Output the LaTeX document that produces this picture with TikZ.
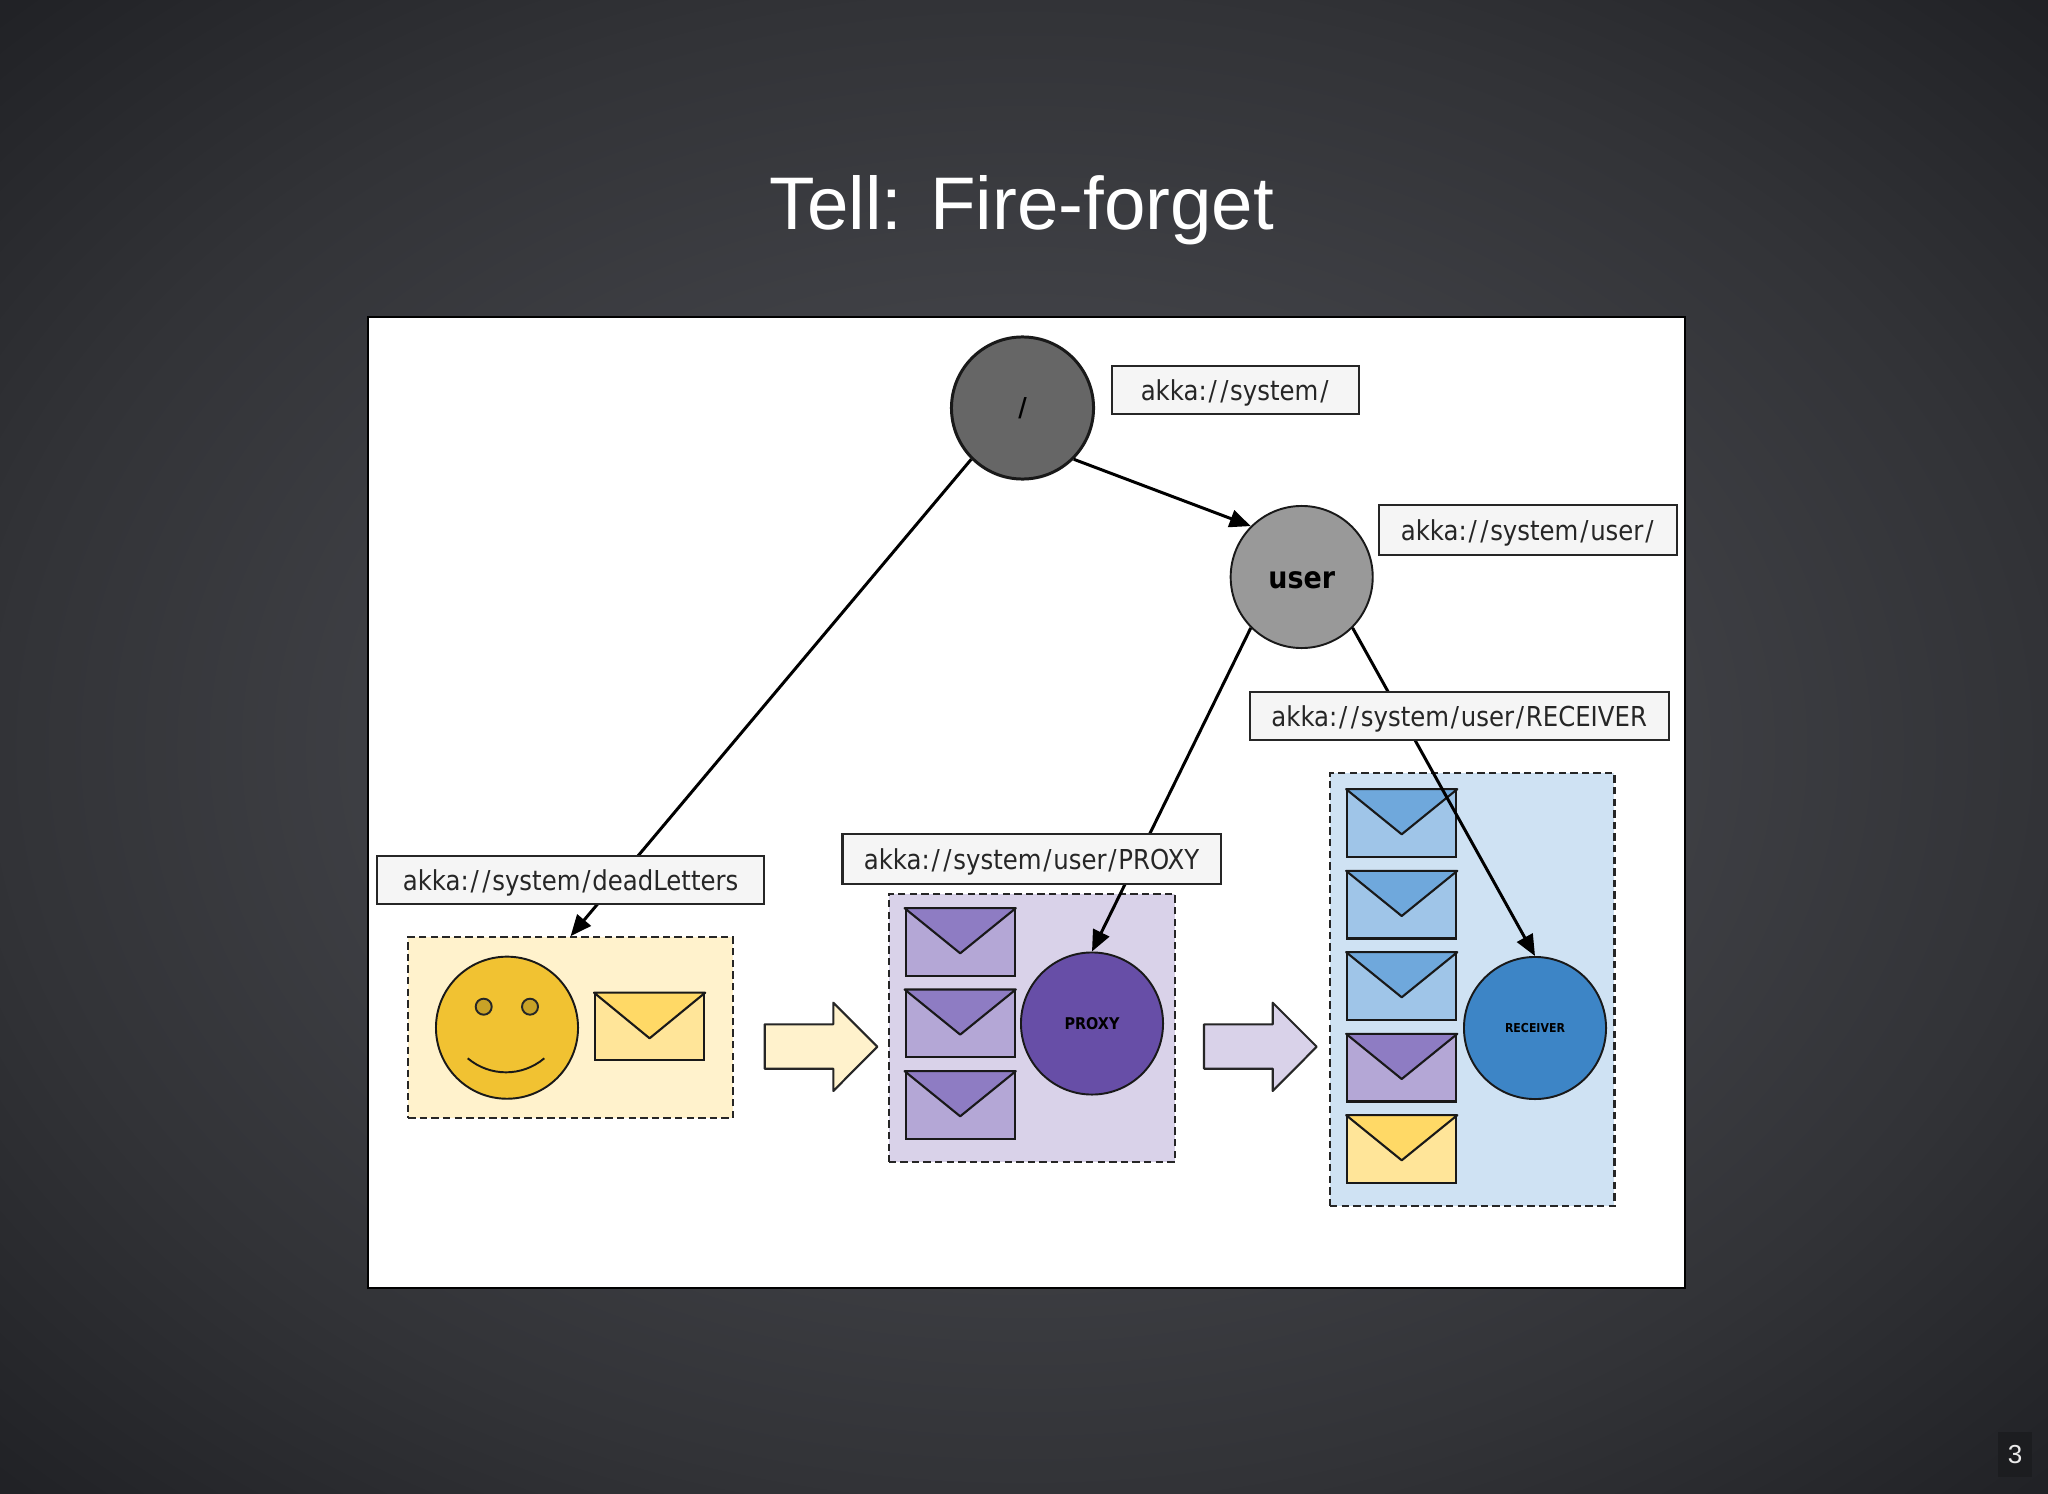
\documentclass[tikz,border=0pt]{standalone}
\usepackage{fontspec}
\setmainfont{Liberation Sans}
\newfontfamily\akkafont[FakeStretch=0.89]{DejaVu Sans}
\newcommand{\gapslash}{\kern0.5pt/\kern0.5pt}
\usetikzlibrary{arrows.meta}
\definecolor{slidein}{HTML}{404146}
\definecolor{slideedge}{HTML}{323337}
\definecolor{slidecorner}{HTML}{212226}
\definecolor{pagedark}{HTML}{1C1D20}
\definecolor{yellowbox}{HTML}{FFF2CC}
\definecolor{yellowdark}{HTML}{F1C232}
\definecolor{yellowmail}{HTML}{FFE599}
\definecolor{yellowflap}{HTML}{FFD966}
\definecolor{eye}{HTML}{C9A227}
\definecolor{purplebox}{HTML}{D9D2E9}
\definecolor{purplemail}{HTML}{B4A7D6}
\definecolor{purpleflap}{HTML}{8E7CC3}
\definecolor{purpledark}{HTML}{674EA7}
\definecolor{bluebox}{HTML}{CFE2F3}
\definecolor{bluemail}{HTML}{9FC5E8}
\definecolor{blueflap}{HTML}{6FA8DC}
\definecolor{bluedark}{HTML}{3D85C6}
\pgfdeclareradialshading{slidebg}{\pgfpoint{0bp}{0bp}}{color(0bp)=(slidein); color(14bp)=(slidein); color(25bp)=(slideedge); color(35bp)=(slidecorner); color(50bp)=(slidecorner)}
\tikzset{
  addr/.style={draw=black!85, line width=0.6pt, fill=black!4, minimum height=0.48cm, inner sep=0pt, text height=0.27cm, text depth=0.06cm, text=black!85, font=\akkafont\fontsize{7.8}{9}\selectfont},
  actor/.style={circle, draw=black!90, line width=0.55pt, minimum size=1.42cm, inner sep=0pt, text=black},
  mailbox/.style={draw=black!85, line width=0.6pt, dash pattern=on 2.1pt off 1.2pt},
  mail/.style={draw=black!90, line width=0.6pt, minimum width=1.09cm, minimum height=0.665cm, inner sep=0pt},
  flap/.style={draw=black!90, line width=0.6pt, line join=round},
  link/.style={draw=black, line width=0.85pt, -{Triangle[length=6pt,width=5pt]}},
}
\begin{document}
\begin{tikzpicture}[x=0.01cm,y=0.01cm]
\useasboundingbox (0,0) rectangle (2048,-1494);
\shade [shading=slidebg] (0,0) rectangle (2048,-1494);
\node [anchor=base, text=white, font=\fontsize{21.2}{24}\selectfont] (title) at (1022,-230) {Tell: Fire-forget};
\node [draw=black, line width=0.6pt, fill=white, minimum width=13.17cm, minimum height=9.71cm, inner sep=0pt] (panel) at (1026.5,-802.5) {};
\node [fill=pagedark, minimum width=0.34cm, minimum height=0.45cm, inner sep=0pt] (pagebox) at (2015,-1454.5) {};
\node [text=white!92!black, font=\fontsize{7.4}{9}\selectfont] (pagenum) at (2015,-1455) {3};
\node [mailbox, fill=yellowbox, minimum width=3.247cm, minimum height=1.807cm, inner sep=0pt] (sendbox) at (570.6,-1027.6) {};
\node [mailbox, fill=purplebox, minimum width=2.86cm, minimum height=2.683cm, inner sep=0pt] (proxybox) at (1031.7,-1027.8) {};
\node [mailbox, fill=bluebox, minimum width=2.843cm, minimum height=4.327cm, inner sep=0pt] (recvbox) at (1472.2,-989.7) {};
\node [actor, fill=yellowdark] (sender) at (507,-1027.7) {};
\node [circle, draw=black!85, line width=0.55pt, fill=eye, minimum size=0.16cm, inner sep=0pt] (eyeleft) at (483.7,-1006.7) {};
\node [circle, draw=black!85, line width=0.55pt, fill=eye, minimum size=0.16cm, inner sep=0pt] (eyeright) at (530,-1006.7) {};
\draw [black!90, line width=0.55pt] (467.7,-1058.3) .. controls (490,-1077) and (522,-1077) .. (544.3,-1058.3);
\node [mail, fill=yellowmail] (smail) at (649.6,-1027) {};
\draw [flap, fill=yellowflap] (smail.north west) -- (649.6,-1038.3) -- (smail.north east) -- cycle;
\node [mail, fill=purplemail] (pmaila) at (960.2,-942.5) {};
\draw [flap, fill=purpleflap] (pmaila.north west) -- (960.2,-953.3) -- (pmaila.north east) -- cycle;
\node [mail, fill=purplemail] (pmailb) at (960.2,-1023.8) {};
\draw [flap, fill=purpleflap] (pmailb.north west) -- (960.2,-1034.6) -- (pmailb.north east) -- cycle;
\node [mail, fill=purplemail] (pmailc) at (960.2,-1105.5) {};
\draw [flap, fill=purpleflap] (pmailc.north west) -- (960.2,-1116.3) -- (pmailc.north east) -- cycle;
\node [mail, fill=bluemail] (rmaila) at (1401.7,-823.5) {};
\draw [flap, fill=blueflap] (rmaila.north west) -- (1401.7,-834.3) -- (rmaila.north east) -- cycle;
\node [mail, fill=bluemail] (rmailb) at (1401.7,-905.2) {};
\draw [flap, fill=blueflap] (rmailb.north west) -- (1401.7,-916) -- (rmailb.north east) -- cycle;
\node [mail, fill=bluemail] (rmailc) at (1401.7,-986.5) {};
\draw [flap, fill=blueflap] (rmailc.north west) -- (1401.7,-997.3) -- (rmailc.north east) -- cycle;
\node [mail, fill=purplemail] (rmaild) at (1401.7,-1068.2) {};
\draw [flap, fill=purpleflap] (rmaild.north west) -- (1401.7,-1079) -- (rmaild.north east) -- cycle;
\node [mail, fill=yellowmail] (rmaile) at (1401.7,-1149.5) {};
\draw [flap, fill=yellowflap] (rmaile.north west) -- (1401.7,-1160.3) -- (rmaile.north east) -- cycle;
\draw [black!85, line width=0.6pt, line join=round, fill=yellowbox] (764.7,-1024.3) -- (833.3,-1024.3) -- (833.3,-1002.7) -- (877.3,-1046.7) -- (833.3,-1091) -- (833.3,-1068.7) -- (764.7,-1068.7) -- cycle;
\draw [black!85, line width=0.6pt, line join=round, fill=purplebox] (1204,-1024.3) -- (1272.7,-1024.3) -- (1272.7,-1002.7) -- (1316.7,-1046.7) -- (1272.7,-1091) -- (1272.7,-1068.7) -- (1204,-1068.7) -- cycle;
\node [actor, fill=purpledark, font=\akkafont\bfseries\fontsize{4.6}{6}\selectfont] (proxy) at (1092,-1023.5) {PROXY};
\node [actor, fill=bluedark, font=\akkafont\bfseries\fontsize{3.5}{4}\selectfont] (receiver) at (1535,-1028) {RECEIVER};
\node [actor, line width=0.85pt, fill=black!60, font=\akkafont\bfseries\fontsize{7.4}{9}\selectfont] (root) at (1022.5,-408) {/};
\node [actor, fill=black!40, text height=0.22cm, text depth=0cm, font=\akkafont\bfseries\fontsize{8.6}{10}\selectfont] (user) at (1301.7,-577) {user};
\draw [link] (root.-45) -- (user.135);
\draw [link] (root.225) -- (sendbox.north);
\draw [link] (user.225) -- (proxy.north);
\draw [link] (user.-45) -- (receiver.north);
\node [addr, minimum width=2.47cm] (addrroot) at (1235.5,-390) {akka:\gapslash\gapslash system\gapslash};
\node [addr, minimum width=2.98cm, minimum height=0.5cm] (addruser) at (1528,-530) {akka:\gapslash\gapslash system\gapslash user\gapslash};
\node [addr, minimum width=4.19cm] (addrrecv) at (1459.2,-715.7) {akka:\gapslash\gapslash system\gapslash user\gapslash RECEIVER};
\node [addr, minimum width=3.78cm, minimum height=0.5cm] (addrproxy) at (1031.6,-858.8) {akka:\gapslash\gapslash system\gapslash user\gapslash PROXY};
\node [addr, minimum width=3.87cm] (addrdead) at (570.6,-880.2) {akka:\gapslash\gapslash system\gapslash deadLetters};
\end{tikzpicture}
\end{document}
